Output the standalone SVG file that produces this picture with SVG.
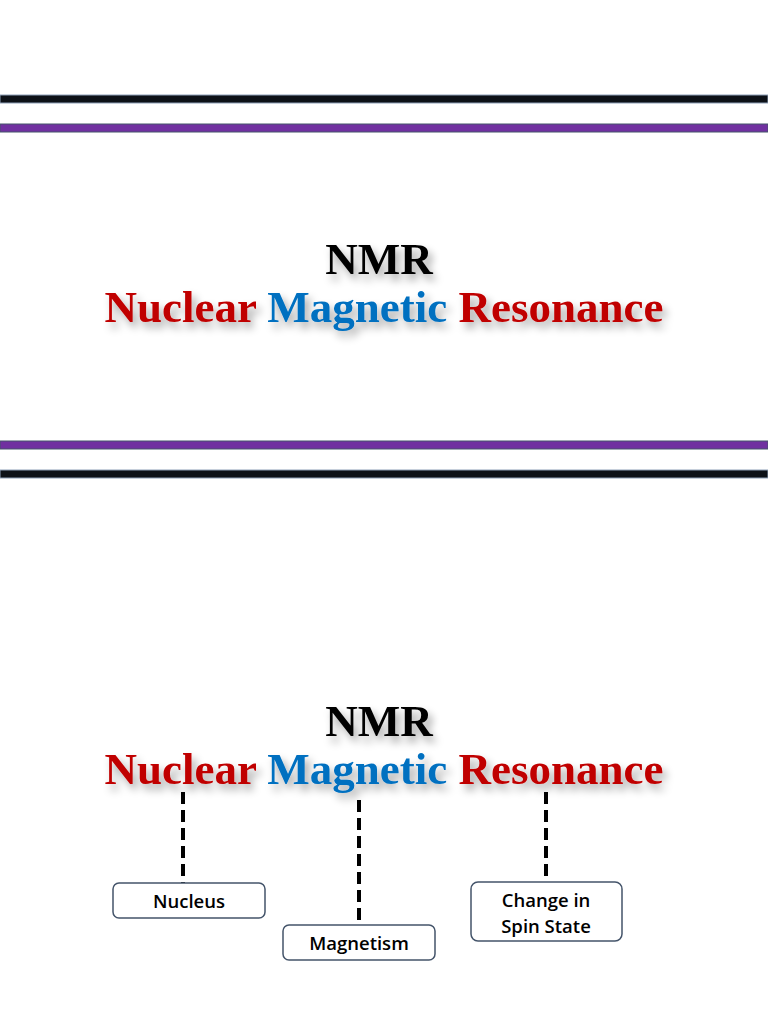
<svg xmlns="http://www.w3.org/2000/svg" width="768" height="1024" viewBox="0 0 768 1024">
<defs>
<filter id="sh" x="-20%" y="-50%" width="140%" height="200%">
<feGaussianBlur in="SourceAlpha" stdDeviation="4"/>
<feOffset dx="4" dy="6"/>
<feComponentTransfer><feFuncA type="linear" slope="0.35"/></feComponentTransfer>
<feMerge><feMergeNode/><feMergeNode in="SourceGraphic"/></feMerge>
</filter>
</defs>
<style>
.t{font-family:"Liberation Serif",serif;font-weight:bold;font-size:45px;text-anchor:middle}
.r{fill:#c00000}.b{fill:#0070c0}
.box{fill:#fff;stroke:#44546a;stroke-width:1.5}
.lb{font-family:"Open Sans","Liberation Sans",sans-serif;font-weight:600;font-size:18.5px;text-anchor:middle;fill:#000}
.dash{stroke:#000;stroke-width:4;stroke-dasharray:12,6}
</style>
<rect width="768" height="1024" fill="#fff"/>
<rect x="0" y="95" width="768" height="8" fill="#0d1117" stroke="#8ea0b8" stroke-width="1"/>
<rect x="0" y="124" width="768" height="8" fill="#7030a0" stroke="#44546a" stroke-width="1"/>
<rect x="0" y="441" width="768" height="8" fill="#7030a0" stroke="#44546a" stroke-width="1"/>
<rect x="0" y="470" width="768" height="8" fill="#0d1117" stroke="#8ea0b8" stroke-width="1"/>
<g filter="url(#sh)">
<text class="t" x="379" y="274">NMR</text>
<text class="t" x="384" y="322"><tspan class="r">Nuclear </tspan><tspan class="b">Magnetic </tspan><tspan class="r">Resonance</tspan></text>
<text class="t" x="379" y="736">NMR</text>
<text class="t" x="384" y="784"><tspan class="r">Nuclear </tspan><tspan class="b">Magnetic </tspan><tspan class="r">Resonance</tspan></text>
</g>
<g id="connectors">
<line class="dash" x1="183" y1="792" x2="183" y2="883"/>
<line class="dash" x1="359" y1="800" x2="359" y2="925"/>
<line class="dash" x1="546" y1="792" x2="546" y2="882"/>
</g>
<g id="nucleus"><rect class="box" x="113" y="883" width="152" height="35" rx="6"/><text class="lb" x="189" y="908">Nucleus</text></g>
<g id="magnetism"><rect class="box" x="283" y="925" width="152" height="35" rx="6"/><text class="lb" x="359" y="950">Magnetism</text></g>
<g id="spin"><rect class="box" x="471" y="882" width="151" height="59" rx="7"/><text class="lb" x="546" y="907">Change in</text><text class="lb" x="546" y="933">Spin State</text></g>
</svg>
